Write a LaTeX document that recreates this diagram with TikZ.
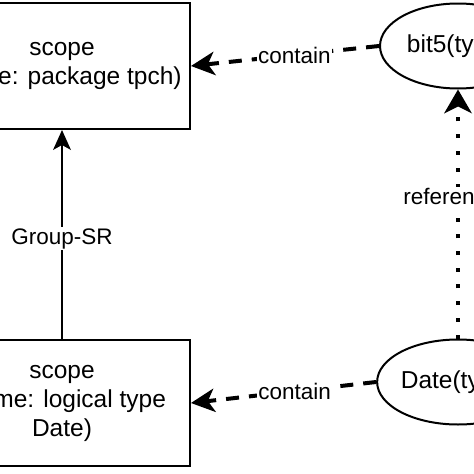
\documentclass[tikz,border=0pt]{standalone}
\usepackage{fontspec}
\setmainfont{Liberation Sans}
\usetikzlibrary{arrows.meta,shapes.geometric}
\begin{document}
\begin{tikzpicture}[x=1pt,y=-1pt,
  boxnode/.style={draw,line width=2pt,minimum width=256pt,minimum height=126pt,align=center,font=\fontsize{24.5}{29}\selectfont,inner sep=0pt},
  ellnode/.style={draw,ellipse,line width=2pt,minimum width=156pt,minimum height=85pt,inner sep=0pt,font=\fontsize{24.5}{29}\selectfont},
  lbl/.style={fill=white,font=\fontsize{22.5}{27}\selectfont,inner sep=1pt},
  containedge/.style={line width=4pt,dash pattern=on 13pt off 10pt,-{Stealth[length=24pt,width=24pt,inset=7pt,line width=0pt]}},
  refedge/.style={line width=4pt,dash pattern=on 4pt off 12.7pt,-{Stealth[length=24pt,width=28pt,inset=7pt,line width=0pt]}},
  groupedge/.style={line width=2pt,-{Stealth[length=20pt,width=18pt,inset=5pt,line width=0pt]}}]
\useasboundingbox (0,0) rectangle (474,474);
\clip (0,0) rectangle (474,474);
\node[boxnode] (tbox) at (62,66) {scope\\(name: package tpch)};
\node[boxnode] (bbox) at (62,403) {scope\\(name: logical type\\Date)};
\node[ellnode] (tell) at (458,46) {bit5(type)};
\node[ellnode] (bell) at (458,382) {Date(type)};
\draw[containedge] (tell.west) -- node[lbl,pos=0.45]{contain} (tbox.east);
\draw[containedge] (bell.west) -- node[lbl,pos=0.44]{contain} (bbox.east);
\draw[groupedge] (bbox.north) -- node[lbl,pos=0.48]{Group-SR} (tbox.south);
\draw[refedge] (bell.north) -- node[lbl,pos=0.57,xshift=-7pt]{reference} (tell.south);
\end{tikzpicture}
\end{document}
